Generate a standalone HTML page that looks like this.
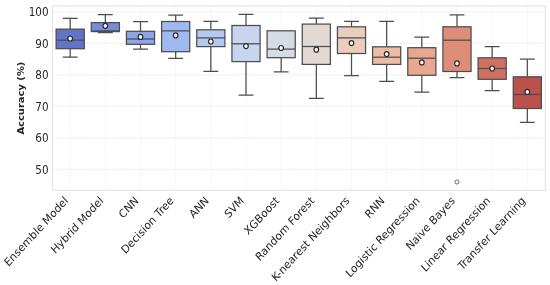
<!DOCTYPE html>
<html lang="en">
<head>
<meta charset="utf-8">
<title>Model Accuracy Box Plot</title>
<style>
html,body{margin:0;padding:0;background:#fff;}
body{width:550px;height:285px;overflow:hidden;}
svg{display:block;}
</style>
</head>
<body>
<svg width="550" height="285" viewBox="0 0 550 285" font-family="'DejaVu Sans', 'Liberation Sans', sans-serif">
<rect width="550" height="285" fill="#fff"/>
<g stroke="#dedede" stroke-width="0.65" stroke-dasharray="1.9 0.9" fill="none">
<path d="M52.60 169.25H545.30"/>
<path d="M52.60 137.77H545.30"/>
<path d="M52.60 106.29H545.30"/>
<path d="M52.60 74.81H545.30"/>
<path d="M52.60 43.33H545.30"/>
<path d="M52.60 11.85H545.30"/>
</g>
<g stroke="#e5e5e5" stroke-width="0.5" stroke-dasharray="1.9 0.9" fill="none">
<path d="M70.18 5.90V190.30"/>
<path d="M105.35 5.90V190.30"/>
<path d="M140.51 5.90V190.30"/>
<path d="M175.67 5.90V190.30"/>
<path d="M210.84 5.90V190.30"/>
<path d="M246.00 5.90V190.30"/>
<path d="M281.17 5.90V190.30"/>
<path d="M316.33 5.90V190.30"/>
<path d="M351.50 5.90V190.30"/>
<path d="M386.66 5.90V190.30"/>
<path d="M421.82 5.90V190.30"/>
<path d="M456.99 5.90V190.30"/>
<path d="M492.15 5.90V190.30"/>
<path d="M527.32 5.90V190.30"/>
</g>
<g stroke="#4d4d4d" stroke-width="1.25" fill="none">
<rect x="56.12" y="29.15" width="28.13" height="19.55" fill="#6074c8"/>
<path d="M56.12 40.15H84.25"/>
<path d="M70.18 29.15V18.40M62.75 18.40H77.61"/>
<path d="M70.18 48.70V57.15M62.75 57.15H77.61"/>
</g>
<g stroke="#4d4d4d" stroke-width="1.25" fill="none">
<rect x="91.28" y="22.60" width="28.13" height="9.00" fill="#758edb"/>
<path d="M91.28 30.95H119.41"/>
<path d="M105.35 22.60V14.60M97.91 14.60H112.78"/>
<path d="M105.35 31.60V32.60M97.91 32.60H112.78"/>
</g>
<g stroke="#4d4d4d" stroke-width="1.25" fill="none">
<rect x="126.44" y="31.30" width="28.13" height="13.00" fill="#8ba5e9"/>
<path d="M126.44 39.00H154.58"/>
<path d="M140.51 31.30V21.50M133.08 21.50H147.94"/>
<path d="M140.51 44.30V49.20M133.08 49.20H147.94"/>
</g>
<g stroke="#4d4d4d" stroke-width="1.25" fill="none">
<rect x="161.61" y="21.50" width="28.13" height="30.20" fill="#a0baf1"/>
<path d="M161.61 30.87H189.74"/>
<path d="M175.67 21.50V15.10M168.24 15.10H183.11"/>
<path d="M175.67 51.70V58.30M168.24 58.30H183.11"/>
</g>
<g stroke="#4d4d4d" stroke-width="1.25" fill="none">
<rect x="196.77" y="29.80" width="28.13" height="16.80" fill="#b5caf3"/>
<path d="M196.77 37.90H224.90"/>
<path d="M210.84 29.80V21.30M203.41 21.30H218.27"/>
<path d="M210.84 46.60V71.40M203.41 71.40H218.27"/>
</g>
<g stroke="#4d4d4d" stroke-width="1.25" fill="none">
<rect x="231.94" y="25.50" width="28.13" height="36.10" fill="#c7d5ee"/>
<path d="M231.94 43.80H260.07"/>
<path d="M246.00 25.50V14.40M238.57 14.40H253.44"/>
<path d="M246.00 61.60V95.20M238.57 95.20H253.44"/>
</g>
<g stroke="#4d4d4d" stroke-width="1.25" fill="none">
<rect x="267.10" y="30.80" width="28.13" height="26.90" fill="#d6dce4"/>
<path d="M267.10 49.10H295.23"/>
<path d="M281.17 57.70V71.80M273.74 71.80H288.60"/>
</g>
<g stroke="#4d4d4d" stroke-width="1.25" fill="none">
<rect x="302.27" y="24.10" width="28.13" height="40.30" fill="#e3d9d3"/>
<path d="M302.27 46.50H330.40"/>
<path d="M316.33 24.10V18.20M308.90 18.20H323.76"/>
<path d="M316.33 64.40V98.40M308.90 98.40H323.76"/>
</g>
<g stroke="#4d4d4d" stroke-width="1.25" fill="none">
<rect x="337.43" y="26.80" width="28.13" height="26.70" fill="#eacdbe"/>
<path d="M337.43 37.90H365.56"/>
<path d="M351.50 26.80V21.30M344.06 21.30H358.93"/>
<path d="M351.50 53.50V75.60M344.06 75.60H358.93"/>
</g>
<g stroke="#4d4d4d" stroke-width="1.25" fill="none">
<rect x="372.59" y="46.80" width="28.13" height="17.60" fill="#ecbca7"/>
<path d="M372.59 57.20H400.73"/>
<path d="M386.66 46.80V21.30M379.23 21.30H394.09"/>
<path d="M386.66 64.40V81.30M379.23 81.30H394.09"/>
</g>
<g stroke="#4d4d4d" stroke-width="1.25" fill="none">
<rect x="407.76" y="47.70" width="28.13" height="27.60" fill="#e7a790"/>
<path d="M407.76 58.20H435.89"/>
<path d="M421.82 47.70V37.10M414.39 37.10H429.26"/>
<path d="M421.82 75.30V92.10M414.39 92.10H429.26"/>
</g>
<g stroke="#4d4d4d" stroke-width="1.25" fill="none">
<rect x="442.92" y="26.80" width="28.13" height="44.70" fill="#dd8e78"/>
<path d="M442.92 40.20H471.06"/>
<path d="M456.99 26.80V14.80M449.56 14.80H464.42"/>
<path d="M456.99 71.50V77.60M449.56 77.60H464.42"/>
</g>
<g stroke="#4d4d4d" stroke-width="1.25" fill="none">
<rect x="478.09" y="57.80" width="28.13" height="21.50" fill="#ce7162"/>
<path d="M478.09 68.50H506.22"/>
<path d="M492.15 57.80V46.60M484.72 46.60H499.59"/>
<path d="M492.15 79.30V90.70M484.72 90.70H499.59"/>
</g>
<g stroke="#4d4d4d" stroke-width="1.25" fill="none">
<rect x="513.25" y="76.80" width="28.13" height="31.70" fill="#ba514c"/>
<path d="M513.25 94.50H541.38"/>
<path d="M527.32 76.80V59.10M519.88 59.10H534.75"/>
<path d="M527.32 108.50V122.30M519.88 122.30H534.75"/>
</g>
<circle cx="456.99" cy="182.00" r="2.05" fill="none" stroke="#4d4d4d" stroke-width="0.8"/>
<ellipse cx="70.18" cy="38.50" rx="2.3" ry="2.5" fill="#fff" stroke="#2a2a2a" stroke-width="1.2"/>
<ellipse cx="105.35" cy="25.80" rx="2.3" ry="2.5" fill="#fff" stroke="#2a2a2a" stroke-width="1.2"/>
<ellipse cx="140.51" cy="36.90" rx="2.3" ry="2.5" fill="#fff" stroke="#2a2a2a" stroke-width="1.2"/>
<ellipse cx="175.67" cy="35.40" rx="2.3" ry="2.5" fill="#fff" stroke="#2a2a2a" stroke-width="1.2"/>
<ellipse cx="210.84" cy="41.50" rx="2.3" ry="2.5" fill="#fff" stroke="#2a2a2a" stroke-width="1.2"/>
<ellipse cx="246.00" cy="46.10" rx="2.3" ry="2.5" fill="#fff" stroke="#2a2a2a" stroke-width="1.2"/>
<ellipse cx="281.17" cy="48.00" rx="2.3" ry="2.5" fill="#fff" stroke="#2a2a2a" stroke-width="1.2"/>
<ellipse cx="316.33" cy="49.70" rx="2.3" ry="2.5" fill="#fff" stroke="#2a2a2a" stroke-width="1.2"/>
<ellipse cx="351.50" cy="43.10" rx="2.3" ry="2.5" fill="#fff" stroke="#2a2a2a" stroke-width="1.2"/>
<ellipse cx="386.66" cy="54.10" rx="2.3" ry="2.5" fill="#fff" stroke="#2a2a2a" stroke-width="1.2"/>
<ellipse cx="421.82" cy="62.40" rx="2.3" ry="2.5" fill="#fff" stroke="#2a2a2a" stroke-width="1.2"/>
<ellipse cx="456.99" cy="63.40" rx="2.3" ry="2.5" fill="#fff" stroke="#2a2a2a" stroke-width="1.2"/>
<ellipse cx="492.15" cy="68.50" rx="2.3" ry="2.5" fill="#fff" stroke="#2a2a2a" stroke-width="1.2"/>
<ellipse cx="527.32" cy="91.90" rx="2.3" ry="2.5" fill="#fff" stroke="#2a2a2a" stroke-width="1.2"/>
<rect x="52.60" y="5.90" width="492.70" height="184.40" fill="none" stroke="#dcdcdc" stroke-width="0.85"/>
<g font-size="10.8" fill="#262626" text-anchor="end">
<text transform="translate(48.60 173.75) scale(0.965 1.07)">50</text>
<text transform="translate(48.60 142.27) scale(0.965 1.07)">60</text>
<text transform="translate(48.60 110.79) scale(0.965 1.07)">70</text>
<text transform="translate(48.60 79.31) scale(0.965 1.07)">80</text>
<text transform="translate(48.60 47.83) scale(0.965 1.07)">90</text>
<text transform="translate(48.60 16.35) scale(0.965 1.07)">100</text>
</g>
<g font-size="10.8" fill="#262626" text-anchor="end">
<text transform="translate(68.88 201.40) scale(0.965 1.048) rotate(-45)">Ensemble Model</text>
<text transform="translate(104.05 201.40) scale(0.965 1.048) rotate(-45)">Hybrid Model</text>
<text transform="translate(139.21 201.40) scale(0.965 1.048) rotate(-45)">CNN</text>
<text transform="translate(174.37 201.40) scale(0.965 1.048) rotate(-45)">Decision Tree</text>
<text transform="translate(209.54 201.40) scale(0.965 1.048) rotate(-45)">ANN</text>
<text transform="translate(244.70 201.40) scale(0.965 1.048) rotate(-45)">SVM</text>
<text transform="translate(279.87 201.40) scale(0.965 1.048) rotate(-45)">XGBoost</text>
<text transform="translate(315.03 201.40) scale(0.965 1.048) rotate(-45)">Random Forest</text>
<text transform="translate(350.20 201.40) scale(0.965 1.048) rotate(-45)">K-nearest Neighbors</text>
<text transform="translate(385.36 201.40) scale(0.965 1.048) rotate(-45)">RNN</text>
<text transform="translate(420.52 201.40) scale(0.965 1.048) rotate(-45)">Logistic Regression</text>
<text transform="translate(455.69 201.40) scale(0.965 1.048) rotate(-45)">Naive Bayes</text>
<text transform="translate(490.85 201.40) scale(0.965 1.048) rotate(-45)">Linear Regression</text>
<text transform="translate(526.02 201.40) scale(0.965 1.048) rotate(-45)">Transfer Learning</text>
</g>
<text transform="translate(24.05 98.10) rotate(-90) scale(1 0.9)" font-size="9.95" font-weight="bold" fill="#262626" text-anchor="middle">Accuracy (%)</text>
</svg>
</body>
</html>
